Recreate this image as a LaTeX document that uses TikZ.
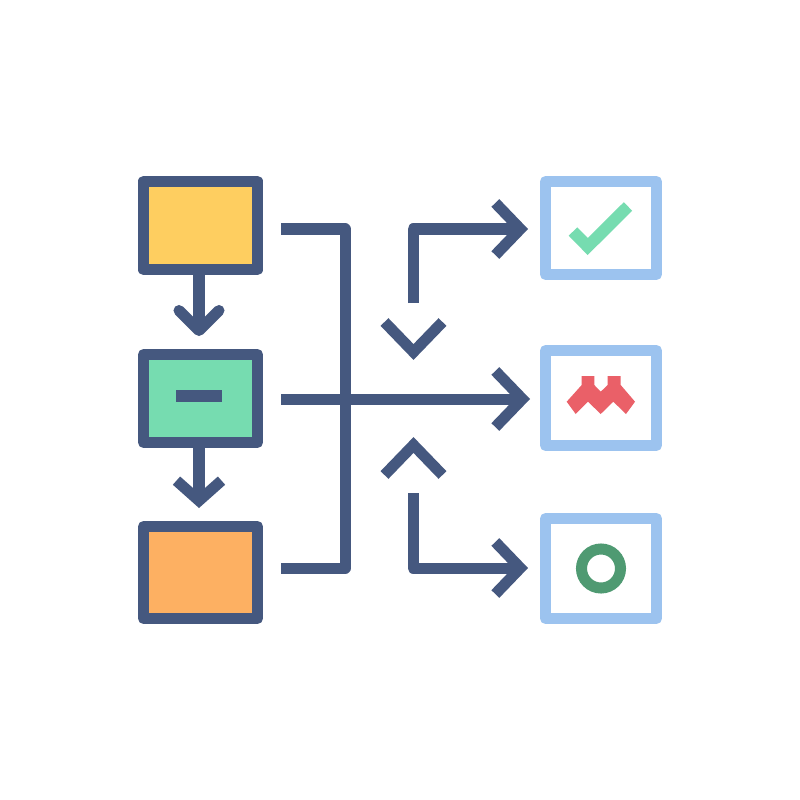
\documentclass[tikz,border=0pt]{standalone}
\usepackage{xcolor}
\usepackage{tikz}
\usetikzlibrary{arrows.meta}
\definecolor{navy}{HTML}{45587F}
\definecolor{sun}{HTML}{FECE60}
\definecolor{mint}{HTML}{76DCB0}
\definecolor{peach}{HTML}{FDB062}
\definecolor{sky}{HTML}{9CC3EF}
\definecolor{coral}{HTML}{EA6068}
\definecolor{forest}{HTML}{4F9A72}
\tikzset{
	leftbox/.style={draw=navy, line width=0.11cm, line join=round, outer sep=0pt, inner sep=0pt, minimum width=1.14cm},
	rightbox/.style={draw=sky, fill=white, line width=0.11cm, line join=round, outer sep=0pt, inner sep=0pt, minimum width=1.11cm},
	line/.style={draw=navy, line width=0.11cm, line join=round},
	chevron/.style={draw=navy, line width=0.11cm, line join=miter},
	flow/.style={line, -{Straight Barb[length=0.25cm, width=0.52cm, line width=0.11cm]}},
	flowmid/.style={line, -{Straight Barb[length=0.27cm, width=0.56cm, line width=0.11cm]}},
	downround/.style={line, -{Straight Barb[length=0.2cm, width=0.4cm, line width=0.11cm, round]}},
	downflat/.style={line, -{Straight Barb[length=0.2cm, width=0.45cm, line width=0.11cm]}},
}

\begin{document}
\begin{tikzpicture}[x=0.01cm, y=-0.01cm]
	\useasboundingbox (0,0) rectangle (800,800);
	\node[leftbox, fill=sun, minimum height=0.885cm] (box0) at (200.5,225.5) {};
	\node[leftbox, fill=mint, minimum height=0.88cm] (box1) at (200.5,398.5) {};
	\node[leftbox, fill=peach, minimum height=0.92cm] (box2) at (200.5,572.5) {};
	\node[rightbox, minimum height=0.93cm] (out0) at (601,228) {};
	\node[rightbox, minimum height=0.95cm] (out1) at (601,398) {};
	\node[rightbox, minimum height=1cm] (out2) at (601,568.5) {};
	\node[fill=navy, inner sep=0pt, minimum width=0.46cm, minimum height=0.12cm] (minus) at (199,396) {};
	\node[draw=forest, line width=0.11cm, circle, inner sep=0pt, minimum size=0.39cm] (ring) at (601,568.5) {};
	% free ends
	\coordinate (d0) at (199,336);
	\coordinate (d1) at (199,508);
	\coordinate (a0) at (281,229);
	\coordinate (a1) at (281,399);
	\coordinate (a2) at (281,568);
	\coordinate (b0) at (345,229);
	\coordinate (b2) at (345,568);
	\coordinate (c0) at (413,303);
	\coordinate (c2) at (413,493);
	\coordinate (e0) at (413,229);
	\coordinate (e2) at (413,568);
	\coordinate (t0) at (528,229);
	\coordinate (t1) at (530,399);
	\coordinate (t2) at (528,568);
	\draw[downround] (box0.south -| d0) -- (d0);
	\draw[downflat] (box1.south -| d1) -- (d1);
	\draw[line] (a0) -- (b0) -- (b2) -- (a2);
	\draw[flowmid] (a1) -- (t1);
	\draw[flow] (c0) -- (e0) -- (t0);
	\draw[flow] (c2) -- (e2) -- (t2);
	\draw[chevron] (384.5,322) -- (413.5,352) -- (442.5,322);
	\draw[chevron] (384.5,475) -- (413.5,445) -- (442.5,475);
	\draw[draw=mint, line width=0.12cm] (573,231.5) -- (587.7,246.5) -- (628,206.5);
	\fill[coral] (581.7,376) -- (594.3,376) -- (594.3,385) -- (600.7,391.7) -- (607.7,385) -- (607.7,376)
		-- (620.7,376) -- (620.7,385) -- (635,401.7) -- (626,414) -- (613.3,401.7) -- (600.7,414)
		-- (588,401.7) -- (575.7,414) -- (566.7,401.7) -- (581.7,385) -- cycle;
\end{tikzpicture}
\end{document}
